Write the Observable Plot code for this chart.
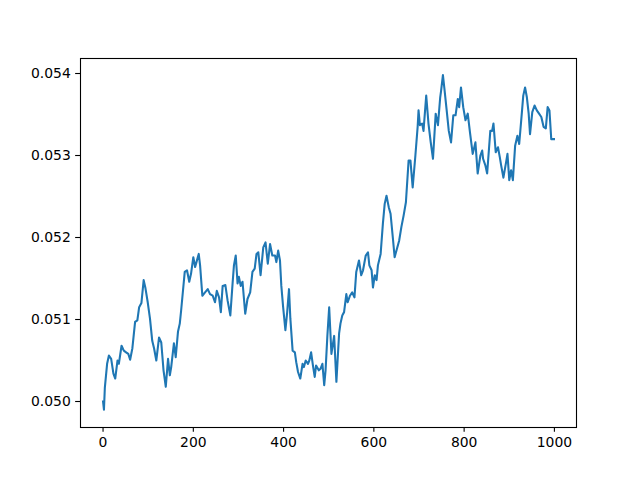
<!DOCTYPE html>
<html>
<head>
<meta charset="utf-8">
<script src="https://cdn.jsdelivr.net/npm/d3@7"></script>
<script src="https://cdn.jsdelivr.net/npm/@observablehq/plot@0.6"></script>
<style>
  html, body { margin: 0; padding: 0; background: white; }
  #chart { width: 640px; height: 480px; }
</style>
</head>
<body>
<div id="chart"></div>
<script>
const steps = [
  0,2,4,9,13,18,23,27,32,35,
  41,46,51,56,60,65,71,76,80,85,
  90,94,99,104,109,113,118,124,129,134,
  139,144,148,151,157,161,166,170,173,181,
  186,191,195,200,204,207,212,215,220,226,
  232,237,243,248,252,257,261,265,271,276,
  282,287,290,294,298,301,305,309,315,320,
  326,331,336,340,344,349,355,360,365,370,
  375,381,384,388,392,395,399,404,408,412,
  415,420,425,428,432,437,442,445,449,454,
  457,461,465,469,472,478,482,486,490,493,
  497,501,506,512,517,523,526,530,534,539,
  542,547,552,557,561,567,572,576,582,587,
  590,595,598,602,606,609,615,620,624,628,
  633,637,642,646,651,656,661,666,671,677,
  681,686,692,697,699,702,707,710,716,721,
  726,731,737,742,747,749,753,756,761,766,
  771,776,781,786,789,793,798,803,808,813,
  819,825,830,836,840,842,847,851,858,862,
  865,870,875,879,882,887,893,896,900,904,
  908,913,918,922,928,931,935,939,943,946,
  951,956,961,966,971,976,981,985,989,993,
  999
];
const values = [
  0.05000,0.04990,0.05017,0.05046,0.05056,0.05052,0.05034,0.05028,0.05050,0.05046,
  0.05068,0.05062,0.05060,0.05058,0.05051,0.05065,0.05097,0.05099,0.05115,0.05120,
  0.05148,0.05138,0.05121,0.05101,0.05074,0.05065,0.05050,0.05078,0.05072,0.05038,
  0.05018,0.05052,0.05032,0.05042,0.05071,0.05054,0.05085,0.05095,0.05111,0.05158,
  0.05160,0.05146,0.05156,0.05176,0.05164,0.05170,0.05180,0.05166,0.05129,0.05133,
  0.05137,0.05131,0.05129,0.05121,0.05135,0.05127,0.05109,0.05141,0.05142,0.05123,
  0.05105,0.05144,0.05166,0.05178,0.05144,0.05152,0.05141,0.05146,0.05107,0.05125,
  0.05133,0.05158,0.05162,0.05180,0.05182,0.05154,0.05188,0.05194,0.05168,0.05192,
  0.05178,0.05178,0.05170,0.05184,0.05172,0.05141,0.05115,0.05087,0.05109,0.05137,
  0.05101,0.05062,0.05060,0.05048,0.05036,0.05028,0.05046,0.05042,0.05050,0.05046,
  0.05050,0.05060,0.05044,0.05030,0.05044,0.05038,0.05040,0.05046,0.05020,0.05038,
  0.05080,0.05115,0.05058,0.05080,0.05024,0.05083,0.05095,0.05105,0.05109,0.05131,
  0.05121,0.05129,0.05133,0.05127,0.05158,0.05172,0.05154,0.05160,0.05178,0.05182,
  0.05166,0.05160,0.05139,0.05154,0.05148,0.05166,0.05180,0.05217,0.05241,0.05251,
  0.05237,0.05229,0.05200,0.05176,0.05186,0.05196,0.05213,0.05227,0.05243,0.05294,
  0.05294,0.05261,0.05300,0.05335,0.05355,0.05337,0.05339,0.05330,0.05373,0.05339,
  0.05316,0.05296,0.05351,0.05337,0.05371,0.05379,0.05398,0.05383,0.05357,0.05330,
  0.05316,0.05349,0.05349,0.05369,0.05359,0.05383,0.05359,0.05343,0.05351,0.05328,
  0.05302,0.05316,0.05278,0.05300,0.05306,0.05296,0.05288,0.05278,0.05330,0.05330,
  0.05339,0.05304,0.05310,0.05298,0.05288,0.05273,0.05292,0.05302,0.05270,0.05282,
  0.05270,0.05312,0.05324,0.05314,0.05353,0.05373,0.05383,0.05371,0.05351,0.05326,
  0.05353,0.05361,0.05355,0.05351,0.05347,0.05335,0.05333,0.05359,0.05355,0.05320,
  0.05320
];
const xTicks = [0, 200, 400, 600, 800, 1000];
const yTicks = [0.050, 0.051, 0.052, 0.053, 0.054];

const data = steps.map((s, i) => ({step: s, value: values[i]}));

const chart = Plot.plot({
  width: 640,
  height: 480,
  marginLeft: 80,
  marginRight: 64,
  marginTop: 58,
  marginBottom: 53,
  style: {fontFamily: "DejaVu Sans", fontSize: "13.9px", background: "white", color: "black"},
  x: {domain: [-49.95, 1048.95]},
  y: {domain: [0.049683, 0.054183]},
  marks: [
    Plot.line(data, {x: "step", y: "value", stroke: "#1f77b4", strokeWidth: 2.08, strokeLinejoin: "round", strokeLinecap: "square"}),
    Plot.frame({stroke: "black", strokeWidth: 1.1}),
    Plot.axisX({ticks: xTicks, tickFormat: d => String(d), tickSize: 4.86, tickPadding: 4.86, strokeWidth: 1.1, label: null}),
    Plot.axisY({ticks: yTicks, tickFormat: d3.format(".3f"), tickSize: 4.86, tickPadding: 4.86, strokeWidth: 1.1, label: null})
  ]
});
document.getElementById("chart").appendChild(chart);
</script>
</body>
</html>
